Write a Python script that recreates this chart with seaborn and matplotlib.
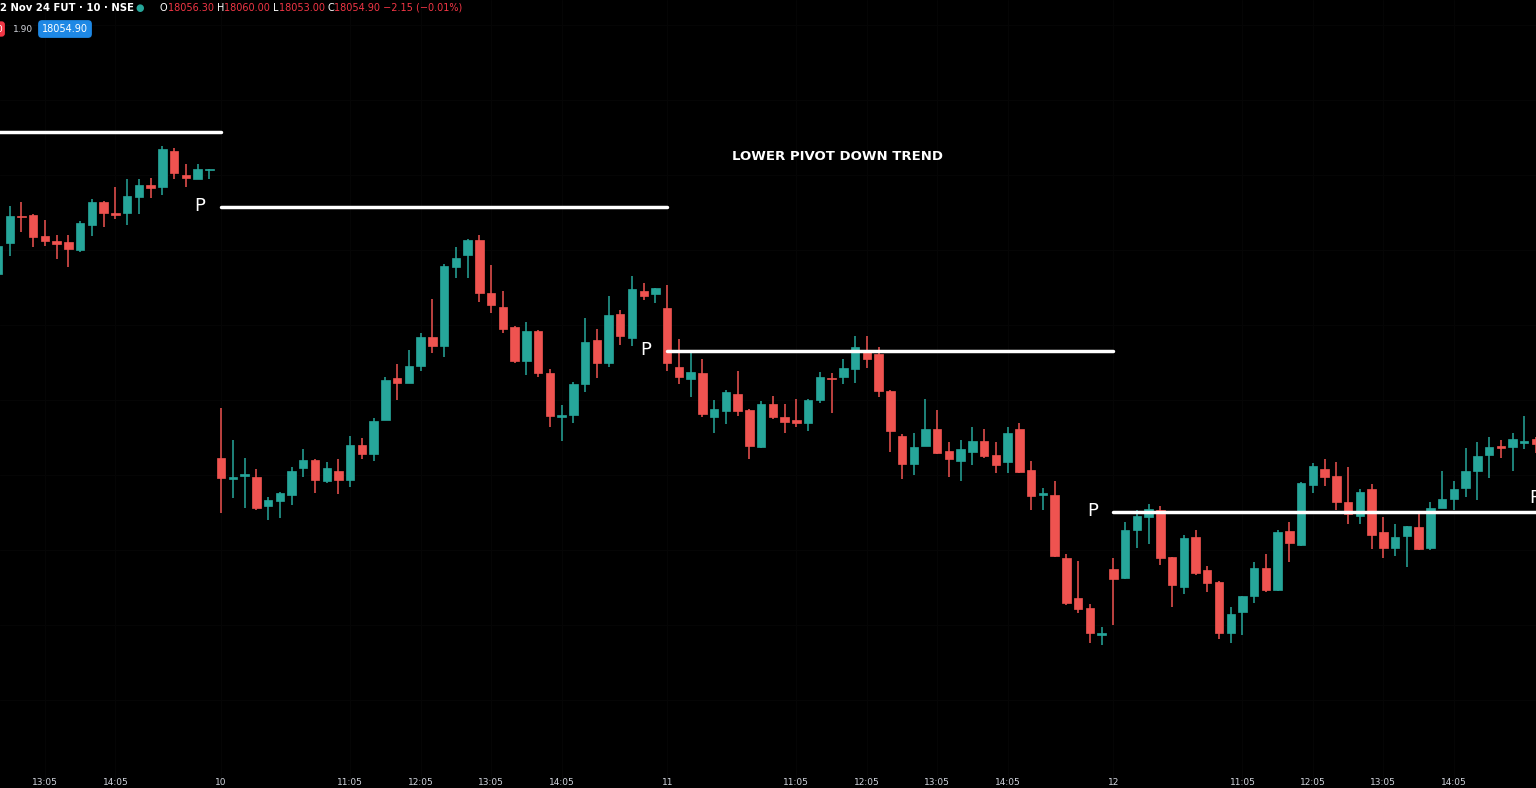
import numpy as np
import pandas as pd
import matplotlib
matplotlib.use("Agg")
import matplotlib.pyplot as plt
import seaborn as sns

BASE = 18000
# OHLC values (price offsets from BASE), 10-minute candles, 4 sessions
opens = [426,457,484,485,464,459,458,450,475,498,487,487,503,515,513,549,525,521,530,
 242,221,224,223,194,199,205,232,240,219,229,220,255,246,280,322,317,334,363,354,433,445,460,407,393,373,339,369,327,283,285,316,360,337,386,362,409,406,
 392,333,321,327,283,289,306,290,253,296,283,280,277,300,322,323,331,349,346,309,264,236,254,271,249,239,248,259,245,238,271,230,205,205,142,102,92,65,
 131,122,170,183,190,143,113,163,130,118,67,88,104,132,110,169,155,215,231,224,198,184,211,168,152,164,173,152,192,201,212,229,245,254,253,257,261]
highs = [460,494,498,486,480,465,465,479,501,499,513,521,521,522,554,552,536,536,531,
 292,260,242,231,203,208,233,251,241,238,241,264,262,282,323,336,350,367,401,436,453,461,465,435,409,374,378,370,331,295,318,382,371,404,390,424,417,412,
 415,361,350,341,300,310,329,291,299,304,296,301,301,328,327,341,364,364,353,310,266,267,301,290,258,260,273,271,258,273,277,239,212,219,146,139,96,73,
 142,178,190,196,194,143,165,170,134,119,93,104,138,146,170,178,218,237,241,238,233,211,216,183,176,174,187,198,229,219,252,258,263,260,267,284,263]
lows = [425,444,468,453,454,441,433,448,464,473,481,475,486,502,505,521,513,521,521,
 187,202,192,190,180,182,195,223,207,217,206,213,241,239,280,300,317,329,347,343,422,422,398,387,367,337,325,323,273,259,277,308,322,333,355,354,400,397,
 329,316,303,283,267,276,284,241,252,281,267,273,269,297,287,316,317,332,303,248,221,225,254,246,223,219,235,242,227,227,227,190,190,143,95,87,57,55,
 75,121,152,156,135,93,106,125,108,61,57,65,97,108,109,138,154,207,214,190,176,176,151,142,144,133,150,150,192,190,203,200,222,242,229,251,247]
closes = [454,484,483,463,459,456,451,477,498,487,485,504,515,512,551,527,522,531,531,
 222,223,226,192,200,207,229,240,220,232,220,255,246,279,320,317,334,363,354,434,442,460,407,395,371,339,369,327,284,285,316,358,337,385,364,411,404,412,
 337,323,328,286,291,308,289,254,296,283,278,277,300,323,321,332,353,341,309,269,236,253,271,247,241,251,259,244,235,267,228,204,207,144,97,91,67,67,
 121,170,184,191,142,115,162,127,117,67,86,104,132,110,168,157,217,234,223,198,186,208,165,152,163,174,151,192,201,211,229,244,253,252,261,259,256]

# session pivots: (value offset, first candle index, next session start index)
pivot_values = [568, 493, 349, 188]
pivot_starts = [0, 19, 57, 95]
pivot_ends = [19, 57, 95, 132]

tick_idx = [4, 10, 19, 30, 36, 42, 48, 57, 68, 74, 80, 86, 95, 106, 112, 118, 124]
tick_labels = ["13:05", "14:05", "10", "11:05", "12:05", "13:05", "14:05", "11",
               "11:05", "12:05", "13:05", "14:05", "12", "11:05", "12:05", "13:05", "14:05"]

df = pd.DataFrame({"open": BASE + np.array(opens), "high": BASE + np.array(highs),
                   "low": BASE + np.array(lows), "close": BASE + np.array(closes)})
df["idx"] = np.arange(len(df))
GREEN, RED = "#26a69a", "#ef5350"
df["color"] = np.where(df["close"] >= df["open"], GREEN, RED)

sns.set_theme(style="dark", rc={"axes.facecolor": "black", "figure.facecolor": "black"})
plt.rcParams["font.family"] = ["DejaVu Sans"]

fig = plt.figure(figsize=(15.36, 7.88), dpi=100)
ax = fig.add_axes([0, 0, 1, 1])
ax.set_facecolor("black")

# very faint grid
for i in tick_idx:
    ax.axvline(i, color="#050505", lw=1, zorder=0)
for y in range(18000, 18700, 75):
    ax.axhline(y, color="#050505", lw=1, zorder=0)

ax.vlines(df["idx"], df["low"], df["high"], colors=df["color"], lw=1.1, zorder=2)
body_bottom = np.minimum(df["open"], df["close"])
body_h = np.maximum(np.abs(df["close"] - df["open"]), 1.5)
ax.bar(df["idx"], body_h, bottom=body_bottom, width=0.72, color=df["color"],
       edgecolor=df["color"], lw=0.5, zorder=3)

for v, s, e in zip(pivot_values, pivot_starts, pivot_ends):
    seg = pd.DataFrame({"x": [s, e], "y": [BASE + v, BASE + v]})
    sns.lineplot(data=seg, x="x", y="y", ax=ax, color="white", lw=2.5, zorder=4)
    if s > 0:
        ax.text(s - 1.8, BASE + v + 1, "P", color="white", fontsize=13, ha="center", va="center")
ax.text(130.9, BASE + 202, "P", color="white", fontsize=13, ha="center", va="center", clip_on=True)

ax.text(71.5, 18700 - 157, "LOWER PIVOT DOWN TREND", color="white", fontsize=9.5,
        fontweight="bold", ha="center", va="center")

ax.set_xlim(0.17, 131.0)
ax.set_ylim(18700 - 788, 18700)
ax.set_xticks(tick_idx)
ax.set_xticklabels(tick_labels)
ax.tick_params(axis="x", direction="in", pad=-7, length=0, labelsize=6.5, colors="#d1d4dc")
ax.set_yticks([])
ax.set_xlabel("")
ax.set_ylabel("")
for sp in ax.spines.values():
    sp.set_visible(False)

# header
fig.text(0.0, 1 - 8 / 788, "2 Nov 24 FUT · 10 · NSE", color="white", fontsize=7.3,
         fontweight="bold", ha="left", va="center")
fig.text(140 / 1536, 1 - 8 / 788, "●", color="#26a69a", fontsize=7, ha="center", va="center")
parts = [("O", "white"), ("18056.30 ", "#f23645"), ("H", "white"), ("18060.00 ", "#f23645"),
         ("L", "white"), ("18053.00 ", "#f23645"), ("C", "white"), ("18054.90 −2.15 (−0.01%)", "#f23645")]
x = 160
renderer = fig.canvas.get_renderer()
for t, c in parts:
    tx = fig.text(x / 1536, 1 - 8 / 788, t, color=c, fontsize=7, ha="left", va="center")
    bb = tx.get_window_extent(renderer=renderer)
    x += bb.width
fig.text(-4 / 1536, 1 - 29 / 788, "0", color="white", fontsize=6.5,
         ha="left", va="center", bbox=dict(boxstyle="round,pad=0.35", fc="#f23645", ec="none"))
fig.text(13 / 1536, 1 - 29 / 788, "1.90", color="#d1d4dc", fontsize=6.5, ha="left", va="center")
fig.text(42 / 1536, 1 - 29 / 788, "18054.90", color="white", fontsize=7, ha="left", va="center",
         bbox=dict(boxstyle="round,pad=0.4", fc="#1e88e5", ec="none"))

fig.savefig("out.png", dpi=100, facecolor="black")
